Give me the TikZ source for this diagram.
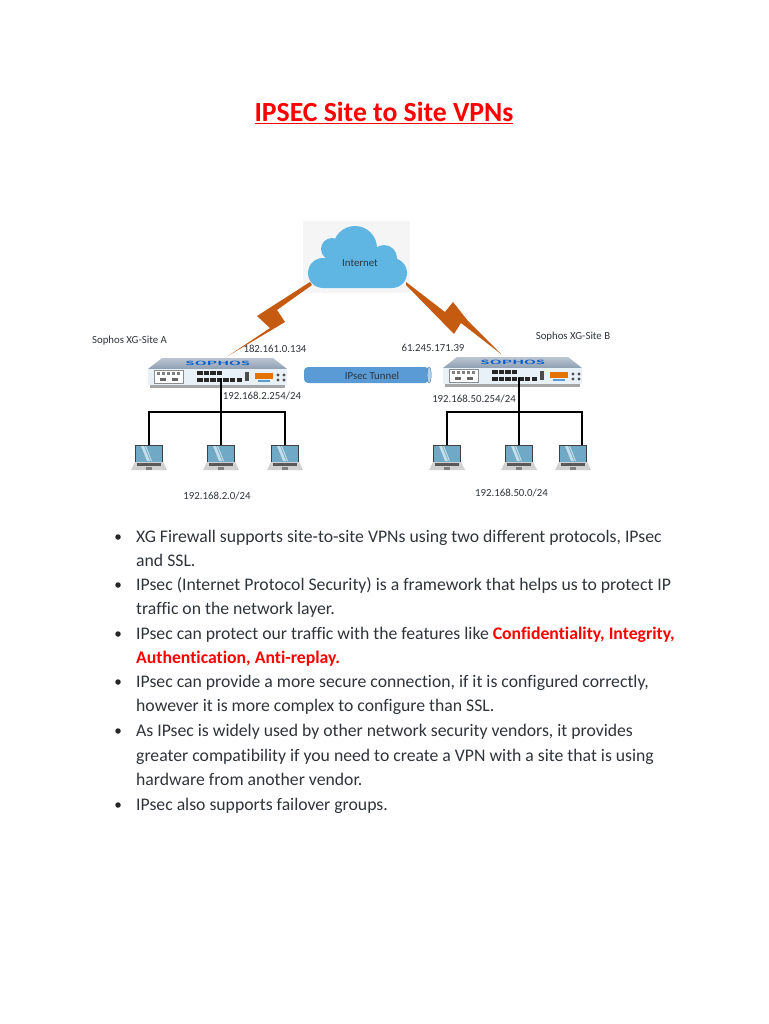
\documentclass[tikz,border=0pt]{standalone}
\usepackage{fontspec}
\setmainfont[Ligatures=NoCommon]{Carlito}
\usetikzlibrary{shapes.geometric}

\definecolor{bodytext}{HTML}{2F343B}
\definecolor{boltorange}{HTML}{C55A11}
\definecolor{cloudblue}{HTML}{5FB6E3}
\definecolor{tunnelblue}{HTML}{5B9BD5}
\definecolor{screenblue}{HTML}{6FA9C6}
\definecolor{lidgray}{HTML}{8F9FB3}
\definecolor{chassis}{HTML}{E9F1F8}

\tikzset{
    lbl/.style = {font=\fontsize{10.8}{12}\selectfont, text=bodytext, inner sep=0pt},
    txtline/.style = {anchor=base west, font=\fontsize{17.7}{20}\selectfont, text=bodytext, inner sep=0pt},
    dotitem/.style = {circle, fill=black!85, minimum size=5.5pt, inner sep=0pt},
    wire/.style = {line width=2pt, black},
    bolt/.style = {fill=boltorange},
    laptop/.pic = {
        \node [draw=black!75, line width=0.8pt, fill=screenblue, minimum width=27pt, minimum height=17pt, inner sep=0pt, anchor=north] (-scr) at (0,0) {};
        \fill [white!60!screenblue] (-8,1) -- (-5,1) -- (1,16) -- (-2,16) -- cycle;
        \fill [white!60!screenblue] (-4,1) -- (-3,1) -- (3,16) -- (2,16) -- cycle;
        \fill [black!18] (-14,17) -- (14,17) -- (18,25) -- (-18,25) -- cycle;
        \fill [black!65] (-12,18) rectangle (12,20.5);
        \fill [black!50] (-3,22) rectangle (3,24.5);
    },
    firewall/.pic = {
        \fill [black!35] (2,16) rectangle (137,19);
        \shade [top color=lidgray!60, bottom color=lidgray] (0,0) -- (14,-11) -- (125,-11) -- (139,0) -- cycle;
        \fill [chassis] (0,0) rectangle (139,16);
        \draw [black!45, fill=white] (6,1) rectangle (35,14);
        \foreach \i in {0,...,4} { \fill [black!50] (8.5+\i*5,3) rectangle +(3,3); }
        \fill [black!60] (12,9) rectangle +(6,3);
        \fill [black!60] (24,9) rectangle +(6,3);
        \foreach \i in {0,...,3} {
            \fill [black!85] (49+\i*6.5,2) rectangle +(5.5,4);
            \fill [black!85] (49+\i*6.5,8.5) rectangle +(5.5,4);
        }
        \fill [black!85] (75,8.5) rectangle +(5.5,4);
        \fill [black!85] (82,8.5) rectangle +(5,4);
        \fill [black!85] (88.5,8.5) rectangle +(5,4);
        \fill [black!70] (97,3) rectangle +(4,9);
        \fill [orange!90!black] (107,4) rectangle (125,10);
        \fill [tunnelblue] (110,11) rectangle (122,13);
        \foreach \i in {0,1} {
            \fill [black!70] (130+\i*6,6) circle (1.6pt);
            \fill [black!70] (130+\i*6,11) circle (1.6pt);
        }
        \node [font=\sffamily\bfseries\fontsize{6}{6}\selectfont, text=blue!55!cyan!80!black, xscale=2.5, inner sep=0pt] (-logo) at (70,-6) {SOPHOS};
    },
}

\begin{document}
\begin{tikzpicture}[x=1pt, y=-1pt]

    \useasboundingbox (0,0) rectangle (768,1024);
    \fill [white] (0,0) rectangle (768,1024);

    \node [font=\bfseries\fontsize{27.7}{32}\selectfont, text=red, inner sep=0pt] (title) at (384,113) {\underline{IPSEC Site to Site VPNs}};

    % cloud
    \fill [black!4] (303,221) rectangle (410,293);
    \fill [cloudblue] (323,273) circle (15pt) (355,248) circle (22pt) (332,249) circle (11pt)
        (384,258) circle (13pt) (392,273) circle (15pt) (323,258) rectangle (392,288);
    \node [lbl] (internet) at (360,263) {Internet};

    % bolts
    \fill [bolt] (310,282) -- (257,316) -- (270,328) -- (228,356) -- (285,322) -- (277,310) -- (312,285) -- cycle;
    \fill [bolt] (406,282) -- (445,312) -- (453,302) -- (468,321) -- (501,354) -- (461,323) -- (454,334) -- (406,285) -- cycle;

    % firewalls
    \pic (fwa) at (148,369) {firewall};
    \pic (fwb) at (443,368) {firewall};
    \coordinate (porta) at (221,378);
    \coordinate (portb) at (519,378);
    \coordinate (busa) at (221,412);
    \coordinate (busb) at (519,412);

    % tunnel
    \node [rectangle, rounded corners=4pt, fill=tunnelblue, minimum width=125pt, minimum height=16pt, inner sep=0pt] (tunnel) at (366.5,375) {};
    \node [ellipse, fill=tunnelblue!45, draw=tunnelblue!80!black, line width=0.4pt, minimum width=4pt, minimum height=16pt, inner sep=0pt] (tunnelcap) at (tunnel.east) {};
    \node [lbl] (tunneltxt) at (372,376) {IPsec Tunnel};

    % laptops
    \pic (la1) at (149,445) {laptop};
    \pic (la2) at (221,445) {laptop};
    \pic (la3) at (285,445) {laptop};
    \pic (lb1) at (447,445) {laptop};
    \pic (lb2) at (519,445) {laptop};
    \pic (lb3) at (573,445) {laptop};

    \draw [wire] (porta) -- (la2-scr.north);
    \draw [wire] (la1-scr.north) |- (busa) -| (la3-scr.north);
    \draw [wire] (portb) -- (lb2-scr.north);
    \draw [wire] (lb1-scr.north) |- (busb) -| ([xshift=9pt]lb3-scr.north);

    \node [lbl] (sitea) at (129.5,341) {Sophos XG-Site A};
    \node [lbl] (siteb) at (573,337) {Sophos XG-Site B};
    \node [lbl] (wana) at (275,349) {182.161.0.134};
    \node [lbl] (wanb) at (433,348) {61.245.171.39};
    \node [lbl] (lana) at (262,396) {192.168.2.254/24};
    \node [lbl] (lanb) at (474,399) {192.168.50.254/24};
    \node [lbl] (neta) at (217,496) {192.168.2.0/24};
    \node [lbl] (netb) at (511.5,493) {192.168.50.0/24};

    % bullet list
    \node [dotitem] (d1) at (118,537) {};
    \node [txtline] (l1) at (136,542.5) {XG Firewall supports site-to-site VPNs using two different protocols, IPsec};
    \node [txtline] (l2) at (136,566.5) {and SSL.};
    \node [dotitem] (d2) at (118,585) {};
    \node [txtline] (l3) at (136,590.5) {IPsec (Internet Protocol Security) is a framework that helps us to protect IP};
    \node [txtline] (l4) at (136,614.5) {traffic on the network layer.};
    \node [dotitem] (d3) at (118,634) {};
    \node [txtline] (l5) at (136,639.5) {IPsec can protect our traffic with the features like \textcolor{red}{\bfseries Confidentiality, Integrity,}};
    \node [txtline] (l6) at (136,663.5) {\textcolor{red}{\bfseries Authentication, Anti-replay.}};
    \node [dotitem] (d4) at (118,682) {};
    \node [txtline] (l7) at (136,687.5) {IPsec can provide a more secure connection, if it is configured correctly,};
    \node [txtline] (l8) at (136,711.5) {however it is more complex to configure than SSL.};
    \node [dotitem] (d5) at (118,731) {};
    \node [txtline] (l9) at (136,736.5) {As IPsec is widely used by other network security vendors, it provides};
    \node [txtline] (l10) at (136,761.5) {greater compatibility if you need to create a VPN with a site that is using};
    \node [txtline] (l11) at (136,785.5) {hardware from another vendor.};
    \node [dotitem] (d6) at (118,805) {};
    \node [txtline] (l12) at (136,810.5) {IPsec also supports failover groups.};

\end{tikzpicture}
\end{document}
